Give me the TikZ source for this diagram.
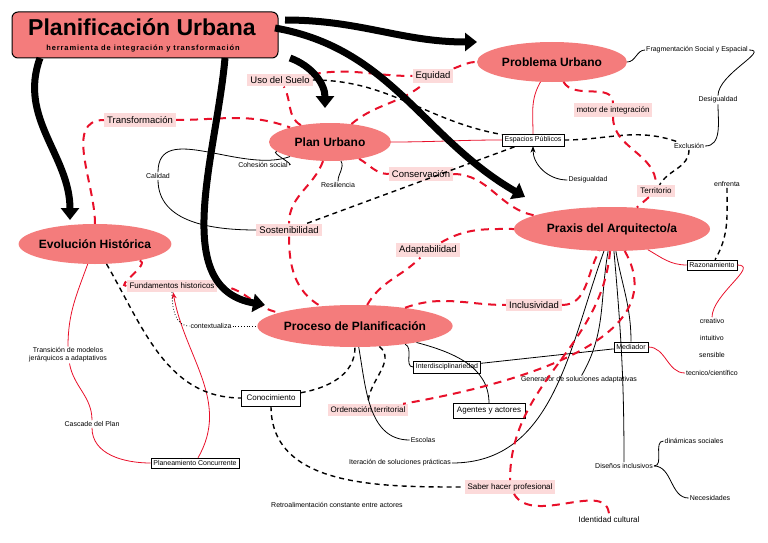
\documentclass[tikz,border=0pt]{standalone}
\usepackage{fontspec}
\setmainfont{Liberation Sans}
\usetikzlibrary{arrows.meta,shapes.geometric}
\definecolor{sal}{HTML}{F47C7C}
\definecolor{pk}{HTML}{FCDADA}
\definecolor{rr}{HTML}{E8102A}
\tikzset{
 big/.style={ellipse,fill=sal,font=\bfseries\fontsize{12}{13}\selectfont,inner sep=-2pt},
 lab/.style={fill=pk,font=\fontsize{9.5}{11}\selectfont,inner sep=3pt},
 wb/.style={draw,fill=white,font=\fontsize{7}{8}\selectfont,inner sep=2.5pt},
 tx/.style={font=\fontsize{7}{8}\selectfont,inner sep=1pt,align=center},
 rd/.style={draw=rr,line width=2pt,dash pattern=on 8pt off 6pt},
 rt/.style={draw=rr,line width=0.8pt},
 bd/.style={draw,line width=1.4pt,dash pattern=on 5pt off 4pt},
 bt/.style={draw,line width=0.8pt},
 bdot/.style={draw,line width=0.8pt,dotted},
 thick arr/.style={draw,line width=7pt,-{Triangle[length=12pt,width=18pt]}}
}
\begin{document}
\begin{tikzpicture}[x=1pt,y=-1pt]
\useasboundingbox (0,0) rectangle (768,543);
% title
\node[draw,line width=1pt,fill=sal,rounded corners=6pt,minimum width=266pt,minimum height=46pt] (title) at (145,35) {};
\node[font=\bfseries\fontsize{23}{24}\selectfont] (tt) at (142,27) {Planificación Urbana};
\node[font=\bfseries\fontsize{7.5}{8}\selectfont\addfontfeature{LetterSpace=12}] (ts) at (143,49) {herramienta de integración y transformación};
% main ellipses
\node[big,minimum width=150pt,minimum height=40pt] (prob) at (552,62) {Problema Urbano};
\node[big,minimum width=122pt,minimum height=38pt] (plan) at (330,142) {Plan Urbano};
\node[big,minimum width=148pt,minimum height=40pt] (evo) at (95,244) {Evolución Histórica};
\node[big,minimum width=196pt,minimum height=44pt] (prax) at (612,229) {Praxis del Arquitecto/a};
\node[big,minimum width=192pt,minimum height=42pt] (proc) at (355,326) {Proceso de Planificación};
% pink labels
\node[lab] (uso) at (280,80) {Uso del Suelo};
\node[lab] (equ) at (433,76) {Equidad};
\node[lab] (trans) at (140,120) {Transformación};
\node[lab] (cons) at (421,174) {Conservación};
\node[lab] (sost) at (289,230) {Sostenibilidad};
\node[lab] (adap) at (428,250) {Adaptabilidad};
\node[lab] (incl) at (534,305) {Inclusividad};
\node[lab,font=\fontsize{8}{9}\selectfont] (motor) at (613,110) {motor de integración};
\node[lab,font=\fontsize{8}{9}\selectfont] (terr) at (656,191) {Territorio};
\node[lab,font=\fontsize{8}{9}\selectfont] (fund) at (172,286) {Fundamentos historicos};
\node[lab,font=\fontsize{8}{9}\selectfont] (orde) at (368,410) {Ordenación territorial};
\node[lab,font=\fontsize{8}{9}\selectfont] (saber) at (510,487) {Saber hacer profesional};
% white boxes
\node[wb] (esp) at (533,140) {Espacios Públicos};
\node[wb] (raz) at (712,265) {Razonamiento};
\node[wb] (med) at (631,347) {Mediador};
\node[wb] (inter) at (447,367) {Interdisciplinariedad};
\node[wb,font=\fontsize{8}{9}\selectfont,inner sep=5pt] (conoc) at (271,398) {Conocimiento};
\node[wb,font=\fontsize{8}{9}\selectfont,inner sep=4pt] (agen) at (489,411) {Agentes y actores};
\node[wb] (plac) at (195,463) {Planeamiento Concurrente};
% plain text
\node[tx] (frag) at (697,50) {Fragmentación Social y Espacial};
\node[tx] (des1) at (718,100) {Desigualdad};
\node[tx] (excl) at (689,146) {Exclusión};
\node[tx] (enf) at (727,184) {enfrenta};
\node[tx] (des2) at (588,180) {Desigualdad};
\node[tx] (cohe) at (263,165) {Cohesión social};
\node[tx] (cal) at (158,176) {Calidad};
\node[tx] (resi) at (338,185) {Resiliencia};
\node[tx] (ctx) at (211,326) {contextualiza};
\node[tx] (trm) at (68,355) {Transición de modelos\\jerárquicos a adaptativos};
\node[tx] (casc) at (92,424) {Cascade del Plan};
\node[tx] (crea) at (712,321) {creativo};
\node[tx] (intu) at (712,338) {intuitivo};
\node[tx] (sens) at (712,355) {sensible};
\node[tx] (tecn) at (712,373) {tecnico/científico};
\node[tx] (gen) at (579,380) {Generador de soluciones adaptativas};
\node[tx] (esc) at (423,440) {Escolas};
\node[tx] (iter) at (400,463) {Iteración de soluciones prácticas};
\node[tx] (din) at (694,441) {dinámicas sociales};
\node[tx] (dis) at (624,466) {Diseños inclusivos};
\node[tx] (nec) at (710,498) {Necesidades};
\node[tx] (retro) at (337,505) {Retroalimentación constante entre actores};
\node[tx,font=\fontsize{8}{9}\selectfont] (iden) at (609,520) {Identidad cultural};
% black thin
\draw[bt] (plan) to[out=200,in=90] (cal);
\draw[bt] (cal) to[out=-90,in=180] (sost);
\draw[bt] (plan) to[out=190,in=0] (cohe);
\draw[bt] (plan) to[out=-60,in=90] (resi);
\draw[bt] (prob.east) to[out=0,in=180] (frag);
\draw[bt] (frag) to[out=0,in=90] (des1);
\draw[bt] (des1) to[out=-90,in=0] (excl);
\draw[bt,-{Stealth}] (des2) to[out=180,in=-90] (esp);
\draw[bt] (proc) to[out=-20,in=180] (inter);
\draw[bt] (proc) to[out=-80,in=180] (esc);
\draw[bt] (proc) to[out=-15,in=90] (agen);
\draw[bt] (inter) -- (med);
\draw[bt] (prax) to[out=-100,in=60] (gen);
\draw[bt] (prax) to[out=-80,in=90] (med);
\draw[bt] (prax) to[out=-85,in=90] (dis);
\draw[bt] (prax) to[out=-110,in=0] (iter);
\draw[bt] (dis) to[out=0,in=180] (din);
\draw[bt] (dis) to[out=0,in=180] (nec);
% red thin
\draw[rt] (evo) to[out=-110,in=90] (trm);
\draw[rt] (trm) to[out=-80,in=90] (casc);
\draw[rt] (casc) to[out=-90,in=180] (plac);
\draw[rt,-{Stealth}] (plac) to[out=60,in=-80] (fund);
\draw[rt] (prax) to[out=-30,in=180] (raz);
\draw[rt] (raz) to[out=0,in=90] (crea);
\draw[rt] (med) to[out=0,in=180] (tecn);
\draw[rt] (prob) to[out=-120,in=90] (esp);
\draw[rt] (plan) to[out=0,in=180] (esp);
% black dashed
\draw[bd] (evo) to[out=-60,in=180] (conoc);
\draw[bd] (conoc) to[out=10,in=-90] (proc);
\draw[bd] (conoc) to[out=-90,in=180] (saber);
\draw[bd] (proc) to[out=-40,in=90] (orde);
\draw[bd] (sost) -- (esp);
\draw[bd] (uso) to[out=0,in=170] (esp);
\draw[bd] (esp) to[out=0,in=160] (excl);
\draw[bd] (excl) to[out=-90,in=60] (terr);
\draw[bd] (enf) to[out=-90,in=60] (raz);
\draw[bdot] (fund) to[out=-90,in=180] (ctx);
\draw[bdot] (ctx) -- (proc);
% red dashed
\draw[rd] (plan) to[out=150,in=-60] (uso);
\draw[rd] (uso) to[out=10,in=180] (equ);
\draw[rd] (plan) to[out=40,in=220] (equ);
\draw[rd] (equ) to[out=20,in=180] (prob);
\draw[rd] (evo) to[out=90,in=180] (trans);
\draw[rd] (trans) to[out=0,in=160] (plan);
\draw[rd] (plan) to[out=-30,in=180] (cons);
\draw[rd] (cons) to[out=0,in=170] (prax);
\draw[rd] (plan) to[out=-110,in=90] (sost);
\draw[rd] (sost) to[out=-90,in=150] (proc);
\draw[rd] (proc) to[out=60,in=-135] (adap);
\draw[rd] (adap) to[out=30,in=180] (prax);
\draw[rd] (proc) to[out=20,in=180] (incl);
\draw[rd] (incl) to[out=0,in=-120] (prax);
\draw[rd] (prob) to[out=-60,in=90] (motor);
\draw[rd] (motor) to[out=-90,in=90] (terr);
\draw[rd] (terr) -- (prax);
\draw[rd] (evo) to[out=-20,in=180] (fund);
\draw[rd] (fund) to[out=0,in=170] (proc);
\draw[rd] (prax) to[out=-60,in=10] (orde);
\draw[rd] (prax) to[out=-95,in=90] (saber);
\draw[rd] (saber) to[out=-60,in=90] (iden);
% thick arrows
\draw[thick arr] (40,58) to[out=-110,in=90] (70,220);
\draw[thick arr] (225,58) to[out=-95,in=170] (265,305);
\draw[thick arr] (290,58) to[out=-20,in=90] (325,108);
\draw[thick arr] (285,20) to[out=0,in=180] (477,42);
\draw[thick arr] (275,28) to[out=-10,in=150] (525,197);
\end{tikzpicture}
\end{document}
